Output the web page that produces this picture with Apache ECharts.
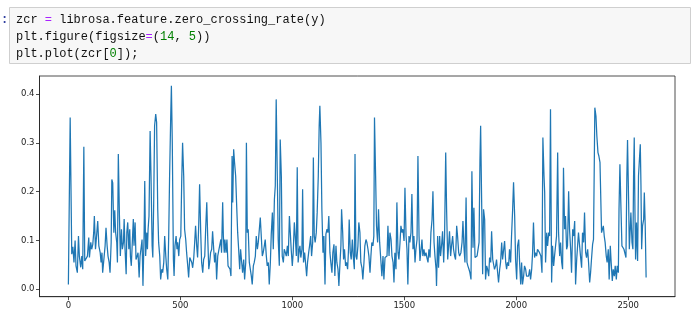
<!DOCTYPE html>
<html>
<head>
<meta charset="utf-8">
<script src="https://cdn.jsdelivr.net/npm/echarts@6/dist/echarts.min.js"></script>
<style>
html,body{margin:0;padding:0;background:#fff;}
#chart{width:700px;height:326px;}
</style>
</head>
<body>
<div id="chart"></div>
<script>
// zero crossing rate, [frame index, value]
const zcrPart1 = [[0,0.010],[8,0.352],[15,0.072],[20,0.087],[25,0.055],[30,0.100],[34,0.048],[40,0.034],[45,0.109],[49,0.068],[55,0.045],[60,0.068],[64,0.041],[69,0.292],[73,0.058],[79,0.061],[85,0.068],[91,0.106],[94,0.065],[100,0.096],[104,0.082],[109,0.092],[113,0.116],[116,0.150],[121,0.082],[127,0.116],[131,0.140],[136,0.089],[142,0.075],[146,0.055],[150,0.075],[153,0.034],[161,0.034],[164,0.089],[168,0.126],[173,0.089],[177,0.068],[182,0.055],[186,0.034],[191,0.096],[194,0.225],[198,0.218],[203,0.116],[207,0.162],[211,0.116],[216,0.096],[219,0.055],[223,0.277],[228,0.150],[232,0.068],[237,0.123],[241,0.082],[246,0.096],[249,0.144],[253,0.082],[258,0.031],[261,0.116],[265,0.137],[270,0.082],[274,0.123],[277,0.068],[281,0.048],[286,0.102],[290,0.144],[293,0.089],[298,0.137],[302,0.061],[307,0.068],[311,0.075],[316,0.024],[320,0.068]];
const zcrPart2 = [[324,0.082],[329,0.102],[333,0.007],[338,0.109],[341,0.222],[345,0.068],[350,0.116],[353,0.082],[356,0.123],[360,0.150],[365,0.324],[369,0.232],[374,0.089],[377,0.065],[381,0.178],[385,0.335],[390,0.359],[394,0.342],[399,0.164],[403,0.096],[408,0.068],[412,0.020],[417,0.041],[421,0.034],[426,0.055],[430,0.109],[435,0.068],[439,0.041],[444,0.020],[448,0.109],[452,0.232],[457,0.355],[460,0.417],[464,0.300],[469,0.061],[472,0.027],[476,0.089],[481,0.109],[485,0.082],[488,0.096],[493,0.068],[497,0.102],[502,0.109],[506,0.219],[510,0.300],[515,0.232],[519,0.123],[524,0.102],[528,0.075],[533,0.048],[537,0.024],[542,0.065],[546,0.061],[551,0.055],[555,0.044],[560,0.065],[564,0.096],[568,0.130],[573,0.089],[577,0.065],[582,0.130],[586,0.215],[591,0.116],[595,0.055],[600,0.034],[604,0.061],[609,0.068],[613,0.123],[618,0.178],[622,0.109],[627,0.041],[631,0.055],[635,0.075],[640,0.082],[644,0.119],[649,0.082],[653,0.055],[658,0.075],[662,0.020],[667,0.068],[671,0.078],[677,0.082]];
const zcrPart3 = [[681,0.102],[684,0.075],[689,0.178],[692,0.109],[696,0.075],[699,0.102],[704,0.075],[708,0.102],[713,0.048],[717,0.044],[722,0.041],[726,0.027],[731,0.273],[734,0.178],[738,0.287],[742,0.260],[747,0.232],[751,0.178],[756,0.116],[760,0.085],[765,0.041],[769,0.082],[774,0.055],[778,0.034],[783,0.061],[787,0.020],[792,0.055],[795,0.300],[799,0.116],[803,0.123],[808,0.055],[812,0.058],[817,0.027],[821,0.010],[826,0.048],[830,0.055],[835,0.068],[839,0.109],[844,0.082],[848,0.096],[853,0.092],[857,0.147],[862,0.143],[866,0.068],[870,0.075],[875,0.089],[879,0.102],[884,0.068],[888,0.048],[893,0.055],[897,0.010],[902,0.055],[906,0.113],[911,0.157],[915,0.082],[920,0.184],[924,0.212],[928,0.389],[933,0.232],[937,0.102],[942,0.048],[946,0.307],[951,0.232],[955,0.068],[960,0.055],[964,0.082],[969,0.075],[973,0.068],[978,0.089],[982,0.068],[987,0.150],[991,0.116],[995,0.082],[1000,0.048],[1004,0.075],[1009,0.137],[1013,0.109],[1018,0.068],[1022,0.250],[1026,0.055],[1031,0.082],[1034,0.089]];
const zcrPart4 = [[1038,0.065],[1043,0.082],[1046,0.205],[1050,0.055],[1055,0.075],[1059,0.055],[1064,0.027],[1068,0.055],[1073,0.075],[1077,0.089],[1082,0.109],[1086,0.068],[1091,0.096],[1094,0.270],[1098,0.109],[1102,0.096],[1107,0.116],[1111,0.157],[1116,0.232],[1120,0.335],[1123,0.376],[1128,0.300],[1132,0.164],[1137,0.075],[1141,0.109],[1146,0.010],[1150,0.113],[1155,0.123],[1159,0.116],[1163,0.150],[1168,0.075],[1172,0.055],[1177,0.034],[1181,0.075],[1186,0.092],[1190,0.027],[1195,0.089],[1199,0.055],[1204,0.041],[1208,0.007],[1213,0.055],[1217,0.089],[1220,0.164],[1225,0.116],[1229,0.061],[1233,0.082],[1238,0.048],[1242,0.055],[1247,0.041],[1251,0.082],[1254,0.143],[1259,0.075],[1263,0.061],[1268,0.102],[1272,0.068],[1277,0.041],[1280,0.277],[1284,0.068],[1288,0.061],[1293,0.089],[1297,0.137],[1302,0.116],[1306,0.055],[1311,0.044],[1315,0.020],[1320,0.055],[1324,0.089],[1329,0.102],[1333,0.096],[1338,0.082],[1342,0.068],[1347,0.034],[1351,0.068],[1355,0.096],[1360,0.089],[1364,0.109],[1367,0.352],[1372,0.232],[1376,0.130],[1381,0.096],[1385,0.164],[1390,0.096]];
const zcrPart5 = [[1396,0.055],[1400,0.027],[1405,0.068],[1409,0.020],[1414,0.065],[1418,0.068],[1423,0.068],[1427,0.130],[1432,0.068],[1436,0.116],[1441,0.102],[1445,0.068],[1450,0.055],[1454,0.014],[1458,0.075],[1463,0.041],[1467,0.178],[1472,0.075],[1476,0.061],[1481,0.096],[1485,0.130],[1490,0.116],[1494,0.123],[1499,0.099],[1503,0.208],[1508,0.109],[1512,0.082],[1516,0.010],[1521,0.109],[1525,0.096],[1530,0.116],[1534,0.195],[1539,0.082],[1543,0.109],[1548,0.055],[1552,0.082],[1557,0.102],[1561,0.273],[1566,0.109],[1570,0.058],[1575,0.082],[1579,0.102],[1583,0.068],[1588,0.082],[1592,0.068],[1597,0.075],[1601,0.065],[1606,0.055],[1610,0.082],[1615,0.065],[1619,0.116],[1624,0.143],[1628,0.201],[1633,0.096],[1637,0.068],[1642,0.041],[1644,0.007],[1649,0.109],[1653,0.044],[1658,0.109],[1662,0.068],[1667,0.092],[1671,0.119],[1676,0.055],[1680,0.109],[1685,0.280],[1689,0.164],[1694,0.061],[1698,0.089],[1702,0.119],[1707,0.068],[1711,0.089],[1716,0.109],[1720,0.082],[1725,0.068],[1729,0.061],[1734,0.130],[1738,0.109],[1743,0.075],[1747,0.068]];
const zcrPart6 = [[1753,0.075],[1758,0.096],[1762,0.140],[1767,0.082],[1771,0.055],[1776,0.188],[1780,0.055],[1784,0.048],[1789,0.041],[1793,0.034],[1798,0.020],[1802,0.242],[1807,0.085],[1811,0.167],[1816,0.065],[1820,0.061],[1825,0.068],[1829,0.065],[1834,0.096],[1838,0.266],[1841,0.335],[1845,0.198],[1850,0.031],[1854,0.164],[1859,0.143],[1863,0.020],[1868,0.048],[1872,0.041],[1877,0.027],[1881,0.065],[1886,0.055],[1890,0.119],[1895,0.061],[1899,0.065],[1903,0.041],[1908,0.048],[1912,0.061],[1917,0.034],[1921,0.014],[1926,0.041],[1930,0.055],[1935,0.096],[1939,0.061],[1944,0.082],[1948,0.099],[1953,0.055],[1957,0.041],[1961,0.055],[1966,0.048],[1970,0.082],[1975,0.055],[1979,0.109],[1984,0.164],[1988,0.219],[1993,0.150],[1997,0.061],[2002,0.020],[2006,0.089],[2011,0.102],[2015,0.055],[2020,0.010],[2024,0.055],[2028,0.010],[2033,0.027],[2037,0.048],[2042,0.041],[2046,0.027],[2051,0.031],[2055,0.027],[2060,0.041],[2064,0.020],[2069,0.041],[2073,0.075],[2077,0.137],[2082,0.065],[2086,0.075],[2091,0.068],[2095,0.082],[2100,0.078],[2104,0.075]];
const zcrPart7 = [[2110,0.068],[2115,0.034],[2119,0.311],[2124,0.232],[2127,0.198],[2131,0.055],[2136,0.116],[2140,0.089],[2145,0.116],[2149,0.109],[2153,0.369],[2158,0.014],[2162,0.089],[2167,0.048],[2171,0.068],[2176,0.068],[2180,0.109],[2185,0.280],[2189,0.116],[2194,0.068],[2198,0.096],[2203,0.055],[2207,0.041],[2211,0.249],[2216,0.123],[2220,0.150],[2225,0.082],[2229,0.089],[2234,0.201],[2238,0.123],[2243,0.082],[2247,0.034],[2252,0.123],[2256,0.109],[2261,0.140],[2265,0.010],[2270,0.061],[2274,0.089],[2278,0.116],[2283,0.089],[2287,0.068],[2292,0.044],[2296,0.116],[2301,0.096],[2305,0.157],[2310,0.075],[2314,0.065],[2319,0.082],[2323,0.055],[2328,0.014],[2332,0.034],[2336,0.061],[2341,0.092],[2345,0.102],[2348,0.232],[2351,0.372],[2356,0.355],[2360,0.314],[2365,0.280],[2369,0.273],[2374,0.260],[2377,0.198],[2381,0.116],[2386,0.116],[2389,0.130],[2393,0.109],[2397,0.096],[2402,0.068],[2406,0.055],[2411,0.082],[2415,0.020],[2420,0.089],[2424,0.055],[2429,0.017],[2433,0.041],[2438,0.027],[2442,0.048],[2447,0.020],[2451,0.048],[2456,0.034],[2459,0.164]];
const zcrPart8 = [[2463,0.256],[2467,0.178],[2472,0.089],[2476,0.085],[2481,0.082],[2485,0.082],[2490,0.065],[2494,0.232],[2497,0.306],[2502,0.178],[2505,0.082],[2509,0.123],[2512,0.157],[2517,0.096],[2521,0.082],[2524,0.232],[2527,0.311],[2530,0.164],[2533,0.061],[2537,0.137],[2542,0.058],[2546,0.232],[2551,0.273],[2554,0.297],[2557,0.212],[2560,0.082],[2564,0.130],[2569,0.143],[2572,0.198],[2576,0.130],[2580,0.024]];

const xTicks = [0, 500, 1000, 1500, 2000, 2500];
const yTicks = [0.0, 0.1, 0.2, 0.3, 0.4];

const codeLine1 = 'zcr = librosa.feature.zero_crossing_rate(y)';
const codeLine2 = 'plt.figure(figsize=(14, 5))';
const codeLine3 = 'plt.plot(zcr[0]);';

const zcr = [].concat(zcrPart1, zcrPart2, zcrPart3, zcrPart4, zcrPart5, zcrPart6, zcrPart7, zcrPart8);

const chart = echarts.init(document.getElementById('chart'), null, {renderer: 'canvas'});

const mono = '"Liberation Mono", "DejaVu Sans Mono", monospace';
const codeRich = {
  k: {fill: '#111', fontFamily: mono, fontSize: 12},
  o: {fill: '#AA22FF', fontFamily: mono, fontSize: 12},
  n: {fill: '#008000', fontFamily: mono, fontSize: 12}
};
function hl(s) {
  // colour '=' operator and numbers like Jupyter
  let out = '';
  let i = 0;
  const isNumStart = j => /[0-9]/.test(s[j]) && !(j > 0 && /[A-Za-z_]/.test(s[j-1]));
  while (i < s.length) {
    if (s[i] === '=') { out += '{o|=}'; i++; continue; }
    if (isNumStart(i)) {
      let j = i; while (j < s.length && /[0-9]/.test(s[j])) j++;
      out += '{n|' + s.slice(i, j) + '}'; i = j; continue;
    }
    let j = i; while (j < s.length && s[j] !== '=' && !isNumStart(j)) j++;
    out += '{k|' + s.slice(i, j) + '}'; i = j;
  }
  return out;
}

const labelFont = '"DejaVu Sans", sans-serif';
const option = {
  animation: false,
  backgroundColor: '#fff',
  graphic: [
    {type: 'rect', shape: {x: 9.5, y: 7.5, width: 681, height: 56}, style: {fill: '#f7f7f7', stroke: '#cfcfcf', lineWidth: 1}, z: 1},
    {type: 'text', x: 1, y: 14, style: {text: ':', fill: '#303F9F', font: 'bold 12px ' + mono}, z: 2},
    {type: 'text', x: 16, y: 14, style: {text: hl(codeLine1), rich: codeRich, font: '12px ' + mono}, z: 2},
    {type: 'text', x: 16, y: 31, style: {text: hl(codeLine2), rich: codeRich, font: '12px ' + mono}, z: 2},
    {type: 'text', x: 16, y: 48, style: {text: hl(codeLine3), rich: codeRich, font: '12px ' + mono}, z: 2}
  ],
  grid: {left: 39.5, right: 25, top: 76, bottom: 29.3, show: true, borderColor: '#222', borderWidth: 0.8, backgroundColor: '#fff'},
  xAxis: {
    type: 'value', min: -129, max: 2709,
    splitLine: {show: false},
    axisLine: {show: true, onZero: false, lineStyle: {color: '#222', width: 0.8}},
    axisTick: {show: true, customValues: xTicks, length: 3.5, lineStyle: {color: '#222', width: 0.8}},
    axisLabel: {customValues: xTicks, fontSize: 8.5, color: '#222', margin: 5, fontFamily: labelFont, formatter: v => String(v)}
  },
  yAxis: {
    type: 'value', min: -0.0152, max: 0.4369,
    splitLine: {show: false},
    axisLine: {show: true, onZero: false, lineStyle: {color: '#222', width: 0.8}},
    axisTick: {show: true, customValues: yTicks, length: 3.5, lineStyle: {color: '#222', width: 0.8}},
    axisLabel: {customValues: yTicks, fontSize: 8.5, color: '#222', margin: 5, fontFamily: labelFont, formatter: v => v.toFixed(1)}
  },
  series: [{
    type: 'line', data: zcr, showSymbol: false, symbol: 'none',
    lineStyle: {color: '#1f77b4', width: 1.25}, z: 3
  }]
};
chart.setOption(option);
</script>
</body>
</html>
